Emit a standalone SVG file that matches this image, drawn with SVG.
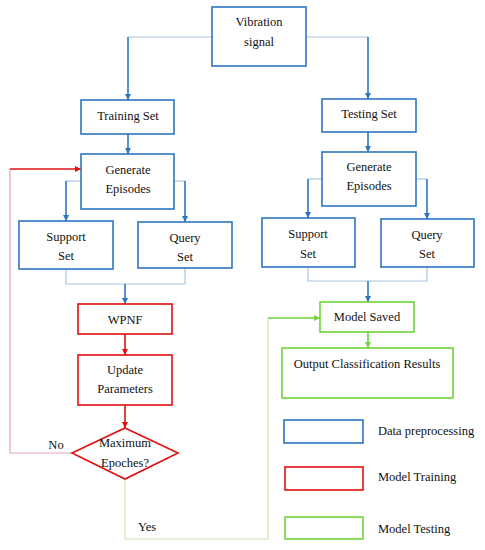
<svg xmlns="http://www.w3.org/2000/svg" width="485" height="550" viewBox="0 0 485 550">
<style>
text{font-family:"Liberation Serif","Times New Roman",serif;font-size:12.5px;fill:#111;text-anchor:middle}
.lg{text-anchor:start}
.b{fill:#fff;stroke:#2e75c0;stroke-width:1.6}
.r{fill:#fff;stroke:#e01010;stroke-width:1.6}
.g{fill:#fff;stroke:#6fd33c;stroke-width:1.6}
.lb{fill:none;stroke:#a8c4e2;stroke-width:1.2}
.ab{fill:none;stroke:#2e75c0;stroke-width:1.6}
.ar{fill:none;stroke:#e01010;stroke-width:1.6}
.ag{fill:none;stroke:#6fd33c;stroke-width:1.6}
.pk{fill:none;stroke:#e3a6ae;stroke-width:1.2}
.lgn{fill:none;stroke:#c8e6b4;stroke-width:1.2}
</style>
<defs>
<marker id="mb" viewBox="0 0 10 10" refX="10" refY="5" markerWidth="4" markerHeight="4" orient="auto" markerUnits="strokeWidth"><path d="M0,0L10,5L0,10z" fill="#2e75c0"/></marker>
<marker id="mr" viewBox="0 0 10 10" refX="10" refY="5" markerWidth="4" markerHeight="4" orient="auto" markerUnits="strokeWidth"><path d="M0,0L10,5L0,10z" fill="#e01010"/></marker>
<marker id="mg" viewBox="0 0 10 10" refX="10" refY="5" markerWidth="4" markerHeight="4" orient="auto" markerUnits="strokeWidth"><path d="M0,0L10,5L0,10z" fill="#6fd33c"/></marker>
</defs>
<g id="connectors">
<path class="lb" d="M212,37H128"/>
<path class="ab" d="M128,37V100" marker-end="url(#mb)"/>
<path class="lb" d="M306,37H368"/>
<path class="ab" d="M368,37V99" marker-end="url(#mb)"/>
<path class="ab" d="M128,134V154" marker-end="url(#mb)"/>
<path class="ab" d="M368,132V152" marker-end="url(#mb)"/>
<path class="lb" d="M81,181H66"/>
<path class="ab" d="M66,181V221" marker-end="url(#mb)"/>
<path class="lb" d="M174,181H185"/>
<path class="ab" d="M185,181V222" marker-end="url(#mb)"/>
<path class="lb" d="M322,179H308"/>
<path class="ab" d="M308,179V218" marker-end="url(#mb)"/>
<path class="lb" d="M416,179H427"/>
<path class="ab" d="M427,179V219" marker-end="url(#mb)"/>
<path class="lb" d="M66,269V284H185V268"/>
<path class="ab" d="M125,284V304" marker-end="url(#mb)"/>
<path class="lb" d="M308,267V281H427V267"/>
<path class="ab" d="M368,281V302" marker-end="url(#mb)"/>
<path class="ar" d="M125,334V355" marker-end="url(#mr)"/>
<path class="ar" d="M125,405V428" marker-end="url(#mr)"/>
<path class="pk" d="M72,453H10V169"/>
<path class="ar" d="M10,169H81" marker-end="url(#mr)"/>
<path class="lgn" d="M125,479V539H268V318"/>
<path class="ag" d="M268,318H320" marker-end="url(#mg)"/>
<path class="ag" d="M368,332V348" marker-end="url(#mg)"/>
<text x="56" y="449">No</text>
<text x="147" y="531">Yes</text>
</g>
<g id="vibration"><rect class="b" x="212" y="7" width="94" height="59"/><text x="259" y="26">Vibration</text><text x="259" y="46">signal</text></g>
<g id="training-set"><rect class="b" x="81" y="100" width="93" height="34"/><text x="128" y="120">Training Set</text></g>
<g id="testing-set"><rect class="b" x="322" y="99" width="94" height="33"/><text x="369" y="118">Testing Set</text></g>
<g id="gen-left"><rect class="b" x="81" y="154" width="93" height="55"/><text x="128" y="174">Generate</text><text x="128" y="193">Episodes</text></g>
<g id="gen-right"><rect class="b" x="322" y="152" width="94" height="54"/><text x="369" y="171">Generate</text><text x="369" y="190">Episodes</text></g>
<g id="support-left"><rect class="b" x="19" y="221" width="94" height="48"/><text x="66" y="241">Support</text><text x="66" y="260">Set</text></g>
<g id="query-left"><rect class="b" x="138" y="222" width="94" height="46"/><text x="185" y="242">Query</text><text x="185" y="261">Set</text></g>
<g id="support-right"><rect class="b" x="262" y="218" width="93" height="49"/><text x="308" y="238">Support</text><text x="308" y="258">Set</text></g>
<g id="query-right"><rect class="b" x="381" y="219" width="93" height="48"/><text x="427" y="239">Query</text><text x="427" y="258">Set</text></g>
<g id="wpnf"><rect class="r" x="78" y="304" width="94" height="30"/><text x="125" y="324">WPNF</text></g>
<g id="update"><rect class="r" x="78" y="355" width="94" height="50"/><text x="125" y="374">Update</text><text x="125" y="393">Parameters</text></g>
<g id="decision"><path class="r" d="M125,428L178,453L125,479L72,453Z"/><text x="125" y="447">Maximum</text><text x="125" y="467">Epoches?</text></g>
<g id="model-saved"><rect class="g" x="320" y="302" width="94" height="30"/><text x="367" y="321">Model Saved</text></g>
<g id="output"><rect class="g" x="282" y="348" width="171" height="50"/><text x="367" y="368">Output Classification Results</text></g>
<g id="legend">
<rect class="b" x="284" y="420" width="79" height="23"/><text class="lg" x="378" y="435">Data preprocessing</text>
<rect class="r" x="285" y="467" width="78" height="23"/><text class="lg" x="378" y="481">Model Training</text>
<rect class="g" x="285" y="517" width="78" height="22"/><text class="lg" x="378" y="533">Model Testing</text>
</g>
</svg>
